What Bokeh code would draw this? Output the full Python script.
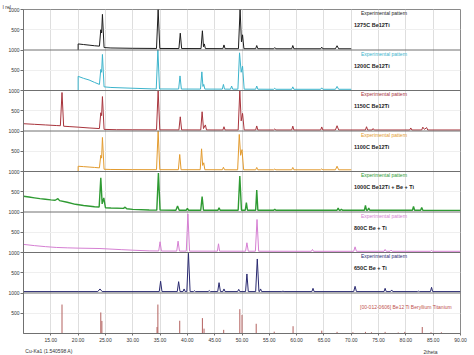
from bokeh.plotting import figure
from bokeh.layouts import column
from bokeh.models import (Range1d, FixedTicker, CustomJSTickFormatter,
                          NumeralTickFormatter, Span, Label, Title)
from bokeh.embed import file_html
from bokeh.resources import INLINE

# ---------------- data (2theta, intensity) ----------------
tt_1275 = [20.0, 20.0, 21.0, 22.0, 23.0, 23.9, 24.15, 24.3, 24.45, 24.75, 26.0, 30.0,
           34.35, 34.65, 34.95, 38.45, 38.7, 38.95, 42.5, 42.75, 42.95, 43.1, 43.3,
           46.5, 46.7, 46.9, 49.35, 49.65, 49.9, 50.1, 50.35, 52.5, 52.7, 52.9,
           55.8, 56.0, 56.2, 59.1, 59.3, 59.5, 64.4, 64.6, 64.8, 67.1, 67.4, 67.7, 70.0]
i_1275 = [0, 150, 135, 120, 105, 95, 500, 420, 880, 60, 50, 42,
          38, 1000, 38, 36, 415, 36, 35, 475, 80, 150, 35,
          33, 125, 33, 32, 1000, 200, 375, 32, 32, 110, 32,
          30, 60, 30, 30, 110, 30, 30, 70, 30, 30, 105, 30, 30]

tt_1200 = [20.0, 20.0, 21.0, 22.0, 23.0, 23.9, 24.15, 24.3, 24.45, 24.75, 26.0, 29.5, 33.5,
           34.3, 34.6, 34.9, 38.4, 38.65, 38.9, 42.4, 42.65, 42.85, 43.0, 43.2,
           46.4, 46.6, 46.8, 47.9, 48.1, 48.3, 49.25, 49.55, 49.85, 50.1, 50.4,
           52.5, 52.7, 52.9, 55.8, 56.0, 56.2, 59.1, 59.3, 59.5, 64.4, 64.6, 64.8,
           67.1, 67.4, 67.7, 70.0]
i_1200 = [0, 350, 300, 260, 200, 150, 520, 450, 890, 90, 75, 58, 40,
          38, 1000, 38, 36, 360, 36, 35, 460, 100, 150, 35,
          34, 150, 34, 33, 110, 33, 33, 930, 450, 600, 33,
          32, 110, 32, 30, 55, 30, 30, 90, 30, 30, 65, 30,
          30, 100, 30, 30]

tt_1150 = [10.0, 12.0, 14.0, 16.0, 16.75, 17.05, 17.35, 18.5, 20.0, 22.0, 23.9, 24.15, 24.3,
           24.45, 24.75, 27.0, 30.0, 34.35, 34.65, 34.95, 38.45, 38.7, 38.95,
           42.45, 42.7, 42.95, 43.3, 43.5, 46.5, 46.7, 46.9, 49.3, 49.6, 49.85, 50.1, 50.4,
           52.5, 52.7, 52.9, 55.8, 56.0, 56.2, 59.1, 59.3, 59.5, 64.4, 64.6, 64.8,
           67.1, 67.4, 67.7, 72.6, 72.8, 73.0, 73.8, 74.0, 74.2, 80.7, 80.9, 81.1,
           82.9, 83.1, 83.4, 83.8, 84.0, 90.0]
i_1150 = [180, 165, 150, 135, 130, 950, 118, 108, 95, 75, 60, 450, 380,
          850, 40, 32, 30, 28, 1000, 28, 27, 350, 27,
          26, 475, 60, 150, 26, 25, 105, 25, 25, 1000, 250, 435, 25,
          25, 125, 25, 25, 50, 25, 25, 120, 25, 25, 100, 25,
          25, 130, 25, 25, 105, 25, 25, 60, 25, 25, 75, 25,
          25, 95, 40, 85, 25, 25]

tt_1100 = [20.0, 20.0, 21.0, 22.0, 23.0, 23.9, 24.15, 24.3, 24.45, 24.75, 26.0, 30.0,
           34.35, 34.65, 34.95, 38.35, 38.6, 38.85, 42.35, 42.6, 42.8, 43.0, 43.2,
           46.4, 46.6, 46.8, 49.2, 49.5, 49.75, 50.0, 50.3, 52.5, 52.7, 52.9,
           55.8, 56.0, 56.2, 59.1, 59.3, 59.5, 64.4, 64.6, 64.8, 67.1, 67.4, 67.7, 70.0]
i_1100 = [0, 130, 120, 110, 100, 90, 400, 330, 840, 55, 50, 46,
          45, 1000, 45, 44, 420, 44, 44, 560, 150, 215, 44,
          43, 105, 43, 42, 915, 400, 540, 42, 42, 100, 42,
          42, 60, 42, 42, 100, 42, 42, 65, 42, 42, 130, 42, 42]

tt_1000 = [10.0, 11.0, 12.0, 13.0, 14.0, 15.0, 15.8, 16.3, 16.6, 18.0, 19.5, 21.0, 23.0,
           23.85, 24.15, 24.4, 24.7, 25.0, 26.0, 28.3, 28.6, 28.9, 30.0, 33.0,
           34.4, 34.7, 35.0, 37.9, 38.2, 38.5, 39.8, 40.0, 40.2, 42.45, 42.7, 42.95,
           45.6, 45.8, 46.0, 49.3, 49.6, 49.9, 50.6, 50.8, 51.0, 52.5, 52.7, 52.9,
           55.8, 56.0, 56.2, 67.4, 67.6, 67.8, 68.0, 68.2, 68.4, 72.4, 72.6, 72.8,
           73.0, 73.2, 73.4, 81.2, 81.4, 81.6, 82.7, 82.9, 83.1, 90.0]
i_1000 = [390, 370, 350, 330, 315, 300, 290, 330, 280, 240, 190, 160, 130,
          125, 845, 200, 350, 105, 100, 90, 120, 80, 65, 48,
          46, 960, 46, 45, 150, 45, 45, 90, 45, 45, 380, 45,
          44, 105, 44, 44, 890, 44, 44, 230, 44, 44, 545, 44,
          43, 70, 43, 42, 95, 42, 42, 70, 42, 42, 160, 42,
          42, 100, 42, 42, 135, 42, 42, 110, 42, 40]

tt_800 = [10.0, 12.0, 14.0, 16.0, 18.0, 20.0, 24.0, 28.0, 30.0, 33.0,
          34.75, 35.0, 35.25, 38.05, 38.3, 38.55, 39.8, 40.1, 40.4,
          45.5, 45.7, 45.9, 50.65, 50.9, 51.15, 52.45, 52.75, 53.05,
          62.7, 62.9, 63.1, 70.45, 70.7, 70.95, 76.0, 76.2, 76.4,
          77.1, 77.3, 77.5, 84.5, 84.7, 84.9, 90.0]
i_800 = [200, 170, 145, 125, 115, 108, 98, 70, 57, 40,
         38, 265, 36, 35, 280, 35, 34, 955, 34,
         33, 215, 33, 32, 240, 32, 32, 815, 32,
         30, 75, 30, 30, 140, 30, 30, 75, 30,
         30, 60, 30, 30, 50, 30, 30]

tt_650 = [10.0, 20.0, 23.6, 24.0, 24.4, 34.85, 35.1, 35.35, 38.15, 38.4, 38.65,
          39.2, 39.4, 39.6, 39.9, 40.2, 40.5, 41.1, 41.3, 41.5, 43.8, 44.0, 44.2,
          45.55, 45.8, 46.05, 46.5, 46.7, 46.9, 49.2, 49.4, 49.6, 50.65, 50.9, 51.15,
          52.5, 52.8, 53.1, 53.2, 53.4, 53.6, 57.3, 57.5, 57.7, 62.8, 63.0, 63.2,
          70.45, 70.7, 70.95, 76.0, 76.2, 76.4, 77.2, 77.4, 77.6, 82.1, 82.3, 82.5,
          84.5, 84.7, 84.9, 90.0]
i_650 = [35, 35, 35, 100, 35, 35, 290, 35, 35, 280, 35,
         35, 100, 35, 35, 980, 35, 35, 55, 35, 35, 60, 35,
         35, 255, 35, 35, 100, 35, 35, 90, 35, 35, 470, 35,
         35, 840, 35, 35, 100, 35, 35, 45, 35, 35, 115, 35,
         35, 165, 35, 35, 115, 35, 35, 75, 35, 35, 45, 35,
         35, 140, 35, 35]

# reference card [00-012-0606] Be12Ti: stick positions and heights
ref_pos = [17.05, 24.15, 24.35, 34.45, 34.6, 38.6, 42.75, 43.05, 46.65, 49.6, 50.0,
           52.6, 55.9, 59.35, 64.6, 67.4, 70.3, 72.6, 73.7, 76.2, 78.6, 79.8,
           83.0, 84.6, 86.5]
ref_int = [715, 520, 310, 160, 715, 315, 380, 120, 90, 600, 460,
           240, 45, 180, 70, 40, 30, 40, 30, 40, 25, 40,
           160, 30, 30]

sample_labels = ["1275C Be12Ti", "1200C Be12Ti", "1150C Be12Ti", "1100C Be12Ti",
                 "1000C Be12Ti + Be + Ti", "800C Be + Ti", "650C Be + Ti"]
ref_label = "[00-012-0606] Be12 Ti Beryllium Titanium"
x_ticks = [15, 20, 25, 30, 35, 40, 45, 50, 55, 60, 65, 70, 75, 80, 85, 90]

colors = ["#1c1c1c", "#3cb4cc", "#a8343c", "#e39b2e", "#2e9a32", "#d57fd2", "#2a2a70"]
ref_color = "#b3605e"
FONT = "Liberation Sans"
TXT = "#333333"

series = [(tt_1275, i_1275), (tt_1200, i_1200), (tt_1150, i_1150), (tt_1100, i_1100),
          (tt_1000, i_1000), (tt_800, i_800), (tt_650, i_650)]

# bottom strip holding the two footer texts
bottom = figure(width=474, height=11, x_range=Range1d(0, 474), y_range=Range1d(0, 11),
                x_axis_type=None, y_axis_type=None, output_backend="svg",
                toolbar_location=None, min_border=0)
bottom.outline_line_color = None
bottom.add_layout(Label(x=2, y=5.5, text="Cu-Ka1 (1.540598 A)", text_font=FONT,
                        text_font_size="5px", text_color=TXT, text_align="left",
                        text_baseline="middle"))
bottom.add_layout(Label(x=449, y=5.0, text="2theta", text_font=FONT, text_font_size="5px",
                        text_color=TXT, text_align="right", text_baseline="middle"))

n_panels = 8
p = figure(width=474, height=344, x_range=Range1d(10, 90),
           y_range=Range1d(0, n_panels * 1000), output_backend="svg",
           toolbar_location=None,
           min_border_left=23, min_border_right=14, min_border_top=9,
           min_border_bottom=10)
p.title = Title(text="I rel.", align="left", offset=-21, standoff=0,
                text_font=FONT, text_font_size="5px", text_font_style="normal",
                text_color=TXT)
p.background_fill_color = "white"
p.border_fill_color = "white"
p.outline_line_color = "#8a8a8a"

# grids
p.xgrid.ticker = FixedTicker(ticks=x_ticks)
p.xgrid.grid_line_color = "#dedede"
p.ygrid.ticker = FixedTicker(ticks=[k * 1000 + 500 for k in range(n_panels)])
p.ygrid.grid_line_color = "#efefef"

# panel separators
for k in range(1, n_panels):
    p.add_layout(Span(location=k * 1000, dimension="width",
                      line_color="#707070", line_width=1))

# traces
for idx, (xs, ys) in enumerate(series):
    off = (n_panels - 1 - idx) * 1000
    p.line(xs, [v + off for v in ys], line_color=colors[idx],
           line_width=1.4 if idx == 4 else 1.0)
    p.add_layout(Label(x=76.0, y=off + 905, text="Experimental pattern",
                       text_font=FONT, text_font_size="5px", text_color=colors[idx],
                       text_align="center", text_baseline="middle"))
    p.add_layout(Label(x=70.5, y=off + 610, text=sample_labels[idx],
                       text_font=FONT, text_font_size="5.5px", text_font_style="bold",
                       text_color="#222222", text_align="left", text_baseline="middle"))

# reference sticks
p.segment(x0=ref_pos, y0=[0] * len(ref_pos), x1=ref_pos, y1=ref_int,
          line_color=ref_color, line_width=1)
p.add_layout(Label(x=71.6, y=660, text=ref_label, text_font=FONT,
                   text_font_size="5px", text_color="#c0504d",
                   text_align="left", text_baseline="middle"))

# axes
p.xaxis.ticker = FixedTicker(ticks=x_ticks)
p.xaxis.formatter = NumeralTickFormatter(format="0.00")
p.yaxis.ticker = FixedTicker(ticks=sorted([k * 1000 + 500 for k in range(n_panels)] +
                                          [k * 1000 for k in range(1, n_panels + 1)]))
p.yaxis.formatter = CustomJSTickFormatter(code="return (tick % 1000 === 0) ? '1000' : '500';")
for ax in (p.xaxis[0], p.yaxis[0]):
    ax.major_label_text_font = FONT
    ax.major_label_text_font_size = "5px"
    ax.major_label_text_color = TXT
    ax.axis_line_color = "#707070"
    ax.major_tick_line_color = "#707070"
    ax.minor_tick_line_color = None
    ax.major_tick_in = 0
p.xaxis.major_tick_out = 2
p.xaxis.major_label_standoff = 2
p.yaxis.major_tick_out = 3
p.yaxis.major_label_standoff = 1

layout = column(p, bottom, spacing=0)
open("out.html", "w").write(file_html(layout, INLINE))
